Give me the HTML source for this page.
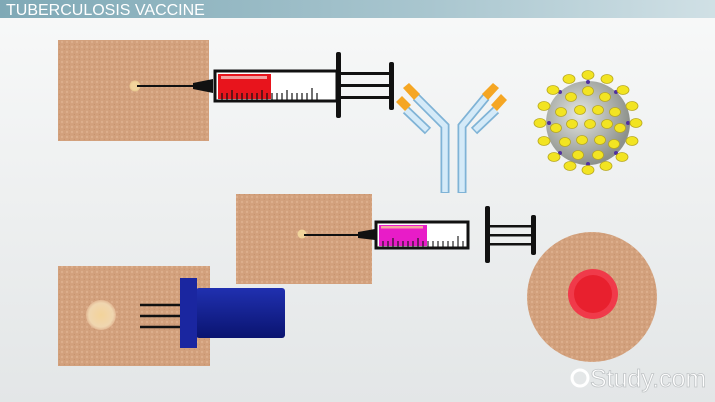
<!DOCTYPE html>
<html><head><style>
html,body{margin:0;padding:0;width:715px;height:402px;overflow:hidden;background:#eef0f1}
</style></head><body>
<svg width="715" height="402" viewBox="0 0 715 402" xmlns="http://www.w3.org/2000/svg" font-family="Liberation Sans, sans-serif">
<defs>
<linearGradient id="bg" x1="0" y1="0" x2="0" y2="1"><stop offset="0" stop-color="#f8f9f9"/><stop offset="1" stop-color="#e3e6e7"/></linearGradient>
<linearGradient id="hd" x1="0" y1="0" x2="1" y2="0"><stop offset="0" stop-color="#7fa9b6"/><stop offset="0.6" stop-color="#a9c6cf"/><stop offset="1" stop-color="#d0e0e5"/></linearGradient>
<pattern id="skin" width="5" height="5" patternUnits="userSpaceOnUse"><rect width="5" height="5" fill="#d2a07c"/><circle cx="2" cy="2" r="1.2" fill="#dcae8c"/><circle cx="4.5" cy="4.5" r="0.7" fill="#c8946f"/></pattern>
<radialGradient id="vir" cx="0.4" cy="0.4" r="0.6"><stop offset="0" stop-color="#e4e6e2"/><stop offset="1" stop-color="#8d918b"/></radialGradient>
<linearGradient id="blue" x1="0" y1="0" x2="0" y2="1"><stop offset="0" stop-color="#2030b0"/><stop offset="1" stop-color="#0a1470"/></linearGradient>
<radialGradient id="bub" cx="0.5" cy="0.5" r="0.5"><stop offset="0" stop-color="#f3d39a"/><stop offset="0.8" stop-color="#f0d6b0"/><stop offset="1" stop-color="#e2b894"/></radialGradient>
</defs>
<rect width="715" height="402" fill="url(#bg)"/>
<rect width="715" height="18" fill="url(#hd)"/>
<text x="6" y="15" font-size="16" fill="#fff">TUBERCULOSIS VACCINE</text>

<!-- skin 1 -->
<rect x="58" y="40" width="151" height="101" fill="url(#skin)"/>
<circle cx="135" cy="86" r="5" fill="#f1d49b" stroke="#e8c890"/>
<line x1="137" y1="86" x2="195" y2="86" stroke="#111" stroke-width="2"/>
<polygon points="193,83 213,79 213,93 193,89" fill="#111"/>
<rect x="215" y="71" width="122" height="30" fill="#fff" stroke="#111" stroke-width="3"/>
<rect x="218" y="74" width="53" height="25" fill="#e8141c"/>
<rect x="221" y="76" width="46" height="3" fill="#f4a0a0"/>
<g stroke="#111" stroke-width="1.2">
<line x1="222" y1="93" x2="222" y2="100"/><line x1="227" y1="93" x2="227" y2="100"/><line x1="232" y1="90" x2="232" y2="100"/><line x1="237" y1="93" x2="237" y2="100"/><line x1="242" y1="93" x2="242" y2="100"/><line x1="247" y1="93" x2="247" y2="100"/><line x1="252" y1="93" x2="252" y2="100"/><line x1="257" y1="93" x2="257" y2="100"/><line x1="262" y1="90" x2="262" y2="100"/><line x1="267" y1="93" x2="267" y2="100"/><line x1="272" y1="93" x2="272" y2="100"/><line x1="277" y1="93" x2="277" y2="100"/><line x1="282" y1="93" x2="282" y2="100"/><line x1="287" y1="90" x2="287" y2="100"/><line x1="292" y1="93" x2="292" y2="100"/><line x1="297" y1="93" x2="297" y2="100"/><line x1="302" y1="93" x2="302" y2="100"/><line x1="307" y1="93" x2="307" y2="100"/><line x1="312" y1="88" x2="312" y2="100"/><line x1="317" y1="93" x2="317" y2="100"/>
</g>
<rect x="336" y="52" width="5" height="66" rx="2" fill="#111"/>
<rect x="341" y="72" width="52" height="3" fill="#111"/><rect x="341" y="84" width="52" height="3" fill="#111"/><rect x="341" y="96" width="52" height="3" fill="#111"/>
<rect x="389" y="62" width="5" height="48" rx="2" fill="#111"/>

<!-- antibody -->
<g fill="none" stroke-linejoin="miter">
<g stroke="#7fb3d6" stroke-width="9">
<polyline points="416,97 445,126 445,193"/>
<polyline points="486,97 462,126 462,193"/>
<line x1="406" y1="110" x2="428" y2="131"/>
<line x1="496" y1="110" x2="474" y2="131"/>
</g>
<g stroke="#d4eaf8" stroke-width="5.5">
<polyline points="416,97 445,126 445,192"/>
<polyline points="486,97 462,126 462,192"/>
<line x1="406" y1="110" x2="427" y2="130"/>
<line x1="496" y1="110" x2="475" y2="130"/>
</g>
</g>
<g fill="#f5a623">
<polygon points="403,88 409,83 420,94 414,100"/>
<polygon points="396,102 402,96 411,105 405,111"/>
<polygon points="499,88 493,83 482,94 488,100"/>
<polygon points="507,100 501,94 491,105 497,111"/>
</g>

<!-- virus -->
<circle cx="588" cy="123" r="42" fill="url(#vir)"/>
<g fill="#5030a0">
<circle cx="588" cy="82" r="2"/><circle cx="560" cy="92" r="2"/><circle cx="616" cy="92" r="2"/><circle cx="549" cy="123" r="2"/><circle cx="628" cy="123" r="2"/><circle cx="560" cy="153" r="2"/><circle cx="616" cy="153" r="2"/><circle cx="588" cy="164" r="2"/>
</g>
<g fill="#f2e422" stroke="#b8a820" stroke-width="0.8">
<ellipse cx="588" cy="75" rx="6" ry="4.5"/><ellipse cx="569" cy="79" rx="6" ry="4.5"/><ellipse cx="607" cy="79" rx="6" ry="4.5"/>
<ellipse cx="553" cy="90" rx="6" ry="4.5"/><ellipse cx="623" cy="90" rx="6" ry="4.5"/>
<ellipse cx="544" cy="106" rx="6" ry="4.5"/><ellipse cx="632" cy="106" rx="6" ry="4.5"/>
<ellipse cx="540" cy="123" rx="6" ry="4.5"/><ellipse cx="636" cy="123" rx="6" ry="4.5"/>
<ellipse cx="544" cy="141" rx="6" ry="4.5"/><ellipse cx="632" cy="141" rx="6" ry="4.5"/>
<ellipse cx="554" cy="157" rx="6" ry="4.5"/><ellipse cx="622" cy="157" rx="6" ry="4.5"/>
<ellipse cx="570" cy="166" rx="6" ry="4.5"/><ellipse cx="588" cy="170" rx="6" ry="4.5"/><ellipse cx="606" cy="166" rx="6" ry="4.5"/>
<ellipse cx="588" cy="91" rx="5.5" ry="4.5"/><ellipse cx="571" cy="97" rx="5.5" ry="4.5"/><ellipse cx="605" cy="97" rx="5.5" ry="4.5"/>
<ellipse cx="561" cy="112" rx="5.5" ry="4.5"/><ellipse cx="580" cy="110" rx="5.5" ry="4.5"/><ellipse cx="598" cy="110" rx="5.5" ry="4.5"/><ellipse cx="615" cy="112" rx="5.5" ry="4.5"/>
<ellipse cx="556" cy="128" rx="5.5" ry="4.5"/><ellipse cx="572" cy="124" rx="5.5" ry="4.5"/><ellipse cx="590" cy="124" rx="5.5" ry="4.5"/><ellipse cx="607" cy="124" rx="5.5" ry="4.5"/><ellipse cx="620" cy="128" rx="5.5" ry="4.5"/>
<ellipse cx="565" cy="142" rx="5.5" ry="4.5"/><ellipse cx="582" cy="140" rx="5.5" ry="4.5"/><ellipse cx="600" cy="140" rx="5.5" ry="4.5"/><ellipse cx="614" cy="144" rx="5.5" ry="4.5"/>
<ellipse cx="578" cy="155" rx="5.5" ry="4.5"/><ellipse cx="598" cy="155" rx="5.5" ry="4.5"/>
</g>

<!-- skin 2 -->
<rect x="236" y="194" width="136" height="90" fill="url(#skin)"/>
<circle cx="302" cy="234" r="4.5" fill="#f1d49b"/>
<line x1="304" y1="235" x2="360" y2="235" stroke="#111" stroke-width="2"/>
<polygon points="358,232 375,229 375,240 358,238" fill="#111"/>
<rect x="376" y="222" width="92" height="26" fill="#fff" stroke="#111" stroke-width="3"/>
<rect x="379" y="225" width="48" height="21" fill="#e81cc8"/>
<rect x="381" y="226" width="42" height="2.5" fill="#f4a8a0"/>
<g stroke="#111" stroke-width="1.1">
<line x1="383" y1="241" x2="383" y2="247"/><line x1="388" y1="241" x2="388" y2="247"/><line x1="393" y1="238" x2="393" y2="247"/><line x1="398" y1="241" x2="398" y2="247"/><line x1="403" y1="241" x2="403" y2="247"/><line x1="408" y1="241" x2="408" y2="247"/><line x1="413" y1="241" x2="413" y2="247"/><line x1="418" y1="238" x2="418" y2="247"/><line x1="423" y1="241" x2="423" y2="247"/><line x1="428" y1="241" x2="428" y2="247"/><line x1="433" y1="241" x2="433" y2="247"/><line x1="438" y1="241" x2="438" y2="247"/><line x1="443" y1="241" x2="443" y2="247"/><line x1="448" y1="241" x2="448" y2="247"/><line x1="453" y1="241" x2="453" y2="247"/><line x1="458" y1="236" x2="458" y2="247"/><line x1="463" y1="241" x2="463" y2="247"/>
</g>
<rect x="485" y="206" width="5" height="57" rx="2" fill="#111"/>
<rect x="490" y="225" width="44" height="2.5" fill="#111"/><rect x="490" y="234" width="44" height="2.5" fill="#111"/><rect x="490" y="243" width="44" height="2.5" fill="#111"/>
<rect x="531" y="215" width="5" height="40" rx="2" fill="#111"/>

<!-- skin circle -->
<circle cx="592" cy="297" r="65" fill="url(#skin)"/>
<circle cx="593" cy="294" r="25" fill="#f03a4a"/>
<circle cx="593" cy="294" r="19" fill="#e8202e"/>

<!-- skin 3 & device -->
<rect x="58" y="266" width="152" height="100" fill="url(#skin)"/>
<circle cx="101" cy="315" r="15" fill="url(#bub)"/>
<g stroke="#111" stroke-width="2.5"><line x1="140" y1="305" x2="181" y2="305"/><line x1="140" y1="316" x2="181" y2="316"/><line x1="140" y1="327" x2="181" y2="327"/></g>
<rect x="196" y="288" width="89" height="50" rx="3" fill="url(#blue)"/>
<rect x="180" y="278" width="17" height="70" fill="#1a26a0"/>

<!-- logo -->
<circle cx="580" cy="378" r="8" fill="none" stroke="#fff" stroke-width="3"/>
<text x="590" y="387" font-size="25" fill="#fff" stroke="#c0c4c6" stroke-width="0.8">Study.com</text>
</svg>
</body></html>
